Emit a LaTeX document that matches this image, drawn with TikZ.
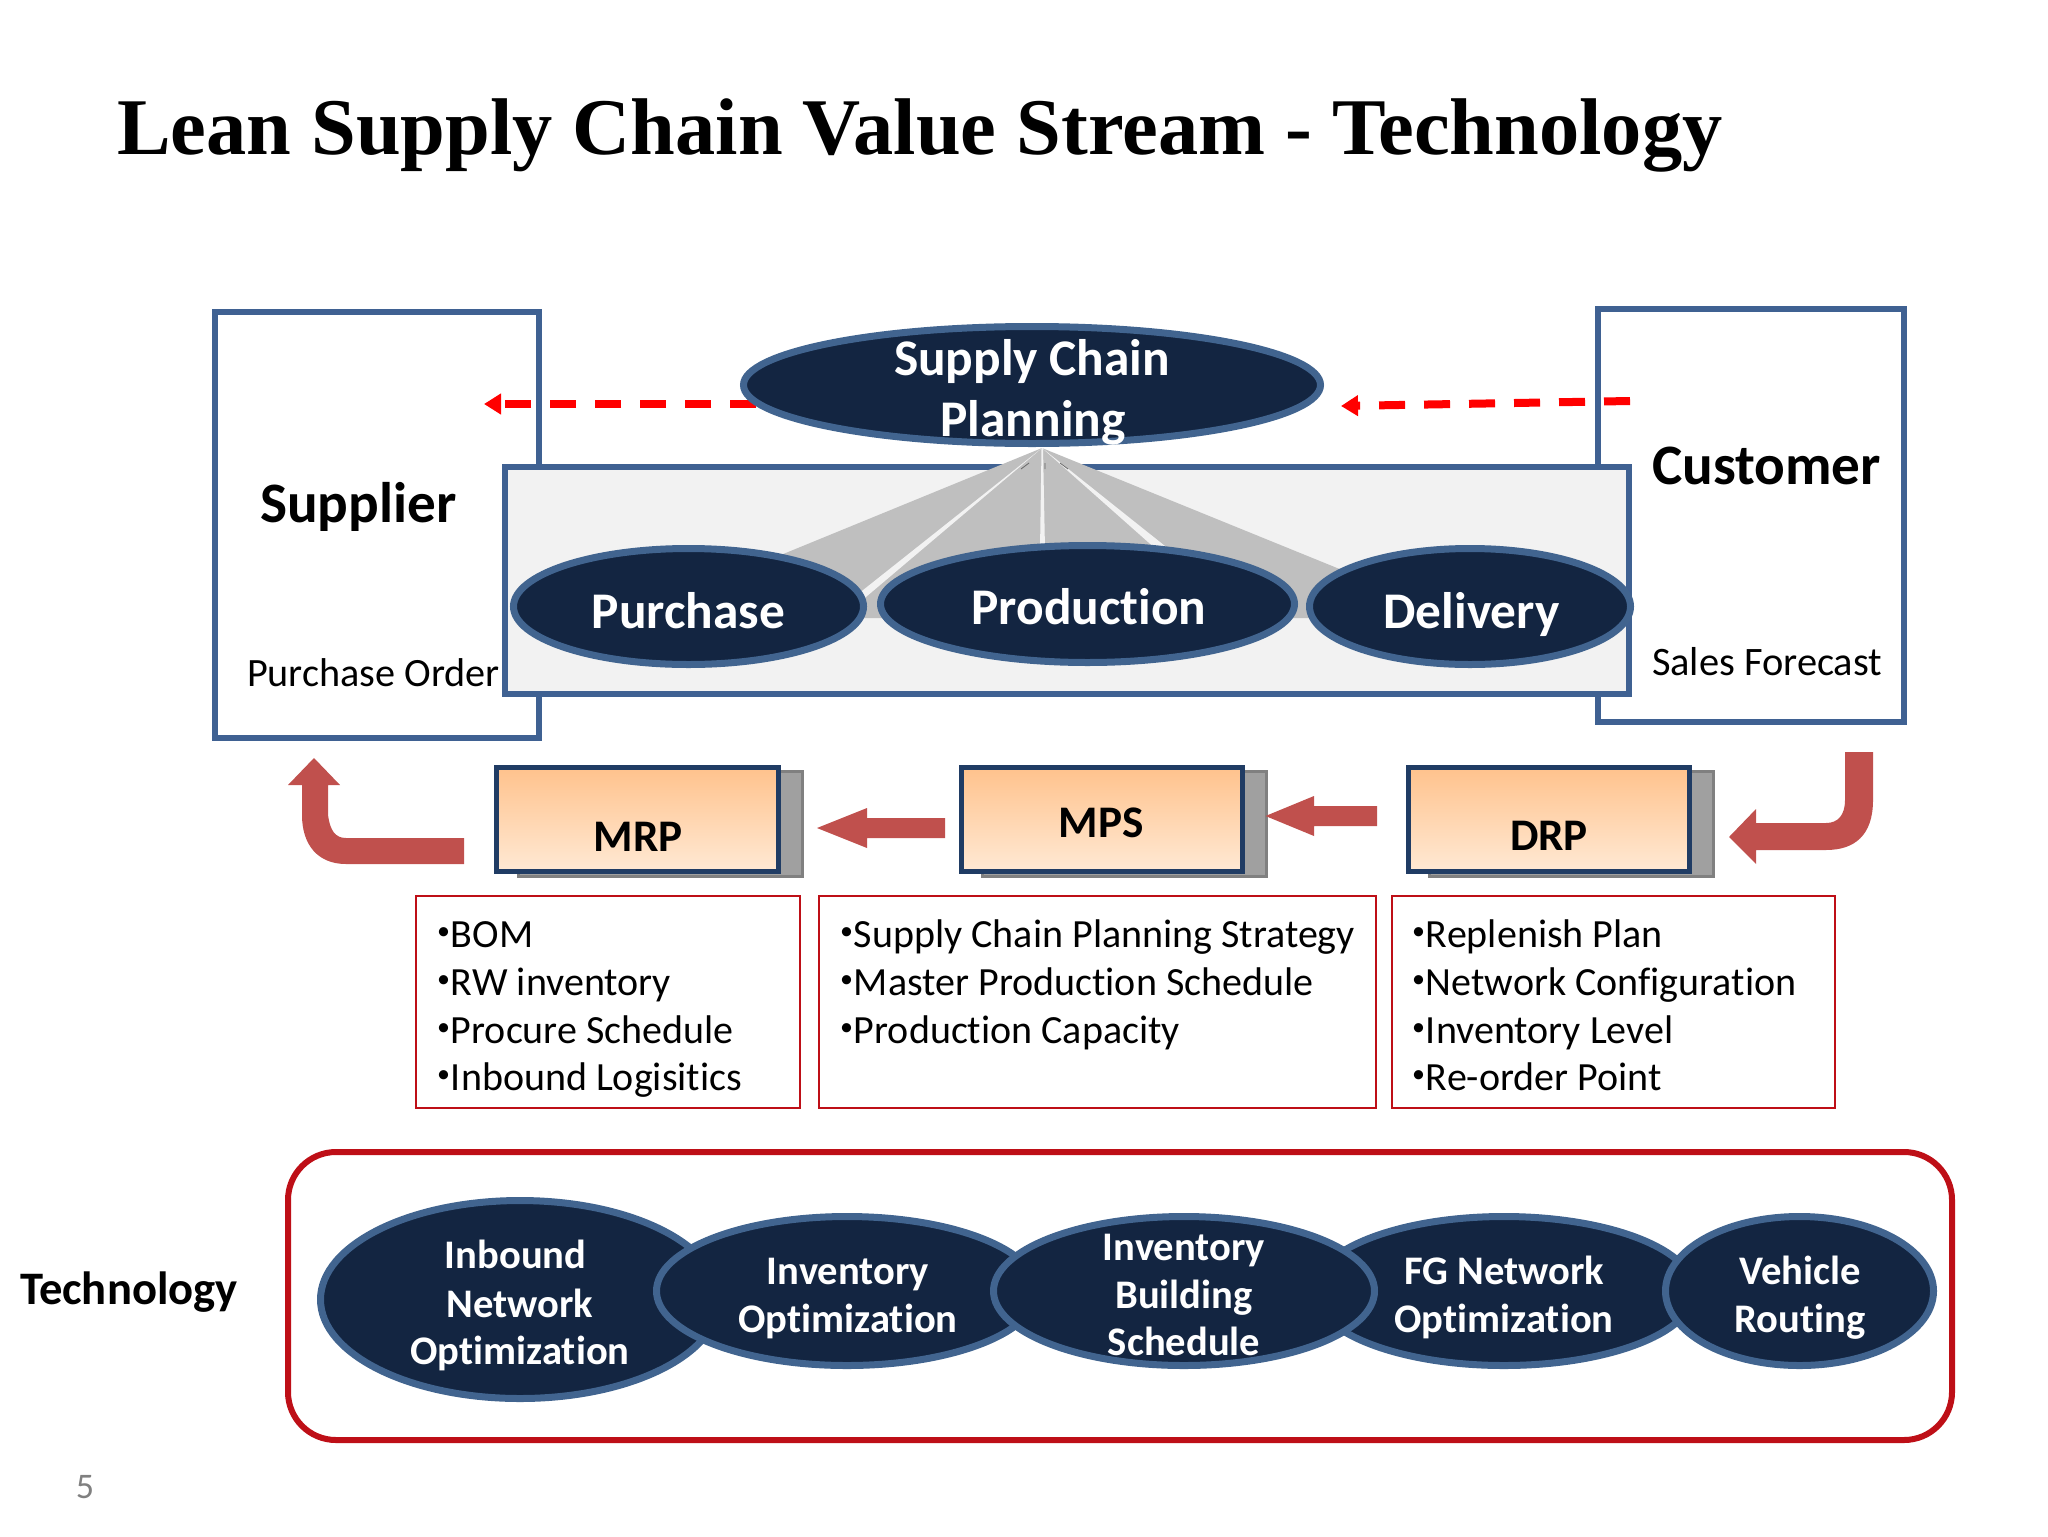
\documentclass[tikz,border=0pt]{standalone}
\usepackage{fontspec}
\setmainfont[Ligatures=NoCommon]{Carlito}
\newfontfamily\titlefont{Liberation Serif}
\usetikzlibrary{shapes.geometric,arrows.meta}
\definecolor{navy}{HTML}{132541}
\definecolor{edgeblue}{HTML}{41648F}
\definecolor{boxblue}{HTML}{3F6192}
\definecolor{planbg}{HTML}{F2F2F2}
\definecolor{fangrey}{HTML}{BFBFBF}
\definecolor{brick}{HTML}{C0504D}
\definecolor{darkred}{HTML}{BE0F17}
\definecolor{peachtop}{HTML}{FFC28C}
\definecolor{peachbot}{HTML}{FFE9D4}
\definecolor{frameblue}{HTML}{203C64}
\definecolor{shadowgrey}{HTML}{A0A0A0}
\definecolor{shadowedge}{HTML}{808080}
\tikzset{
  oval/.style={ellipse,draw=edgeblue,fill=navy,line width=3.5pt,inner sep=0pt,outer sep=0pt},
  bluebox/.style={rectangle,draw=boxblue,line width=3pt,inner sep=0pt,outer sep=0pt},
  listbox/.style={rectangle,draw=darkred,line width=1.4pt,inner sep=0pt,outer sep=0pt},
  planbox/.style={rectangle,draw=frameblue,line width=2.5pt,top color=peachtop,bottom color=peachbot,inner sep=0pt,outer sep=0pt},
  shadowbox/.style={rectangle,draw=shadowedge,line width=1.5pt,fill=shadowgrey,inner sep=0pt,outer sep=0pt},
  lab/.style={inner sep=0pt,outer sep=0pt,anchor=base},
  leftlab/.style={inner sep=0pt,outer sep=0pt,anchor=base west},
  onoval/.style={lab,text=white,font=\bfseries\fontsize{#1}{#1}\selectfont},
  listline/.style={leftlab,font=\fontsize{20}{20}\selectfont},
  reddash/.style={draw=red,line width=4pt,dash pattern=on 13pt off 9.5pt,-{Triangle[length=8.5pt,width=10pt,fill=red]}},
  blockarrow/.style={fill=brick,draw=none},
}
\newcommand{\ovalat}[5]{\node[oval,minimum width=#4*0.5pt-3.5pt,minimum height=#5*0.5pt-3.5pt] (#1) at (#2,#3) {};}
\newcommand{\rectat}[6]{\node[#1,minimum width=#5*0.5pt,minimum height=#6*0.5pt] (#2) at (#3,#4) {};}
\newcommand{\bul}{\raisebox{0.2em}{\fontsize{13}{13}\selectfont •}\kern 0.5pt}
\begin{document}
\begin{tikzpicture}[x=0.5pt,y=-0.5pt]
\useasboundingbox (0,0) rectangle (2048,1536);
% title
\node[leftlab,font=\titlefont\bfseries\fontsize{40.2}{40.2}\selectfont] (title) at (117,154.5) {Lean Supply Chain Value Stream - Technology};
% outer boxes
\rectat{bluebox}{supplier}{376.75}{524.75}{323.5}{426.5}
\rectat{bluebox}{customer}{1750.5}{515.5}{306}{413}
% dashed arrows
\coordinate (scpLeft) at (756,404);
\coordinate (supplierTip) at (484,404);
\coordinate (customerOut) at (1630,401);
\coordinate (scpRight) at (1341,406);
\draw[reddash] (scpLeft) -- (supplierTip);
\draw[reddash] (customerOut) -- (scpRight);
% planning panel
\node[rectangle,draw=boxblue,fill=planbg,line width=3pt,inner sep=0pt,outer sep=0pt,minimum width=565pt-3pt,minimum height=116.5pt-3pt] (panel) at (1067,580.5) {};
% fan
\fill[fangrey] (1042,448) -- (627,618) -- (1460,618) -- cycle;
\fill[planbg] (1042,448) -- (848,602) -- (860,602) -- cycle;
\fill[planbg] (1041.5,448) -- (1040,550) -- (1045,550) -- (1043,448) -- cycle;
\fill[planbg] (1042,448) -- (1157,550) -- (1170,550) -- cycle;
\draw[line width=0.4pt,black!60] (1029,463) -- (1021,469) (1045,463) -- (1045,469) (1060,463) -- (1068,469);
% supply chain ovals
\ovalat{scp}{1032}{385}{584}{124}
\ovalat{purchase}{688.5}{606.5}{357}{123}
\ovalat{production}{1087.5}{604}{421}{124}
\ovalat{delivery}{1470}{606.5}{328}{123}
\node[onoval=25.7] (scpa) at (1032,375.5) {Supply Chain};
\node[onoval=25.7] (scpb) at (1033,436.5) {Planning};
\node[onoval=25.7] (purchaseT) at (688.5,628.5) {Purchase};
\node[onoval=25.7] (productionT) at (1089,624.5) {Production};
\node[onoval=25.7] (deliveryT) at (1471.5,628) {Delivery};
% supplier / customer labels
\node[leftlab,font=\bfseries\fontsize{28.6}{28.6}\selectfont] (supplierT) at (260,522) {Supplier};
\node[leftlab,font=\bfseries\fontsize{28.6}{28.6}\selectfont] (customerT) at (1652,484) {Customer};
\node[leftlab,font=\fontsize{20.1}{20.1}\selectfont] (po) at (247,686) {Purchase Order};
\node[leftlab,font=\fontsize{20.2}{20.2}\selectfont] (sf) at (1652,675) {Sales Forecast};
% MRP MPS DRP
\rectat{shadowbox}{mrpS}{660.5}{824}{284.5}{105.5}
\rectat{planbox}{mrp}{637}{819}{282}{104}
\rectat{shadowbox}{mpsS}{1124.5}{824}{283.5}{105.5}
\rectat{planbox}{mps}{1101.5}{819}{281}{104}
\rectat{shadowbox}{drpS}{1571.5}{824}{283.5}{105.5}
\rectat{planbox}{drp}{1548.5}{819}{281}{104}
\node[lab,font=\bfseries\fontsize{22.6}{22.6}\selectfont] (mrpT) at (638,851) {MRP};
\node[lab,font=\bfseries\fontsize{22.6}{22.6}\selectfont] (mpsT) at (1101,837) {MPS};
\node[lab,font=\bfseries\fontsize{22.6}{22.6}\selectfont] (drpT) at (1549,850) {DRP};
% block arrows
\fill[blockarrow] (817,828) -- (867,808) -- (867,818) -- (945,818) -- (945,838) -- (867,838) -- (867,848) -- cycle;
\fill[blockarrow] (1265.5,816) -- (1314,796) -- (1314,806) -- (1377,806) -- (1377,826) -- (1314,826) -- (1314,836) -- cycle;
\fill[blockarrow] (314,758) -- (340,785) -- (328,785) -- (328,815) .. controls (330,830) and (335,838) .. (346,838) -- (464,838) -- (464,864) -- (346,864) .. controls (318,864) and (302,845) .. (302,815) -- (302,785) -- (288,785) -- cycle;
\fill[blockarrow] (1729,837) -- (1756,809) -- (1756,823) -- (1826,823) .. controls (1838,823) and (1845,815) .. (1845,800) -- (1845,752) -- (1873,752) -- (1873,800) .. controls (1873,835) and (1855,850) .. (1826,850) -- (1756,850) -- (1756,864) -- cycle;
% list boxes
\rectat{listbox}{listA}{608}{1002}{384}{212}
\rectat{listbox}{listB}{1097.5}{1002}{557}{212}
\rectat{listbox}{listC}{1613.5}{1002}{443}{212}
\node[listline] (a1) at (437,947) {\bul BOM};
\node[listline] (a2) at (437,995) {\bul RW inventory};
\node[listline] (a3) at (437,1043) {\bul Procure Schedule};
\node[listline] (a4) at (437,1090) {\bul Inbound Logisitics};
\node[listline] (b1) at (840,947) {\bul Supply Chain Planning Strategy};
\node[listline] (b2) at (840,995) {\bul Master Production Schedule};
\node[listline] (b3) at (840,1043) {\bul Production Capacity};
\node[listline] (c1) at (1412,947) {\bul Replenish Plan};
\node[listline] (c2) at (1412,995) {\bul Network Configuration};
\node[listline] (c3) at (1412,1043) {\bul Inventory Level};
\node[listline] (c4) at (1412,1090) {\bul Re-order Point};
% technology
\node[leftlab,font=\bfseries\fontsize{23.3}{23.3}\selectfont] (techT) at (20,1304.5) {Technology};
\node[rectangle,rounded corners=24pt,draw=darkred,line width=3pt,inner sep=0pt,outer sep=0pt,minimum width=832pt,minimum height=144pt] (techframe) at (1120,1296) {};
\ovalat{inbound}{520}{1299.5}{406}{205}
\ovalat{invopt}{847}{1291}{388}{156}
\ovalat{fgnet}{1504}{1291}{388}{156}
\ovalat{invbuild}{1184}{1291}{388}{156}
\ovalat{vehicle}{1799.5}{1291}{275}{156}
\node[onoval=20.3] (t1) at (515.5,1268.5) {Inbound};
\node[onoval=20.3] (t2) at (520,1317.5) {Network};
\node[onoval=20.3] (t3) at (520,1364.5) {Optimization};
\node[onoval=20.3] (t4) at (848,1284.5) {Inventory};
\node[onoval=20.3] (t5) at (848,1332.5) {Optimization};
\node[onoval=20.3] (t6) at (1184,1260.5) {Inventory};
\node[onoval=20.3] (t7) at (1184,1308.5) {Building};
\node[onoval=20.3] (t8) at (1184,1355.5) {Schedule};
\node[onoval=20.3] (t9) at (1504,1284.5) {FG Network};
\node[onoval=20.3] (t10) at (1504,1332.5) {Optimization};
\node[onoval=20.3] (t11) at (1800,1284.5) {Vehicle};
\node[onoval=20.3] (t12) at (1800,1332.5) {Routing};
% page number
\node[lab,text=black!50,font=\fontsize{18}{18}\selectfont] (pageno) at (85,1498) {5};
\end{tikzpicture}
\end{document}
